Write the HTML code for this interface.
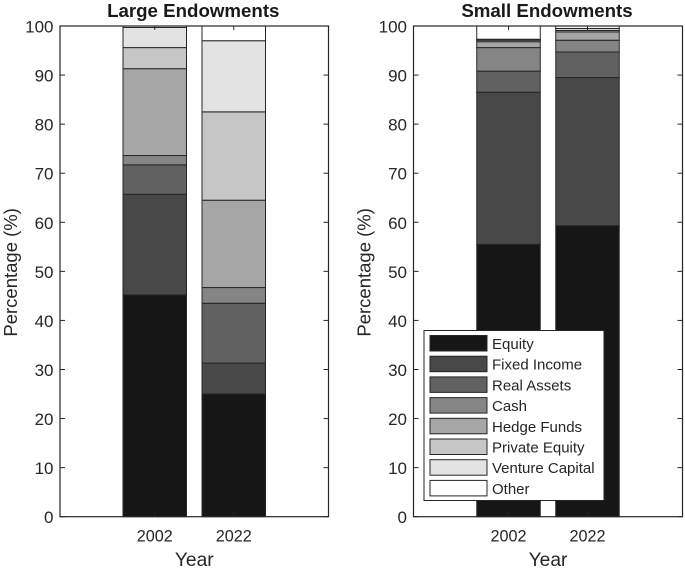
<!DOCTYPE html>
<html>
<head>
<meta charset="utf-8">
<style>
html,body{margin:0;padding:0;background:#fff;}
svg{display:block;font-family:"Liberation Sans",Arial,sans-serif;}
</style>
</head>
<body>
<svg id="chart" width="685" height="570" viewBox="0 0 685 570" xmlns="http://www.w3.org/2000/svg"></svg>
<script>
const categories = ['Equity','Fixed Income','Real Assets','Cash','Hedge Funds','Private Equity','Venture Capital','Other'];
const years = ['2002','2022'];
const yTicks = [0,10,20,30,40,50,60,70,80,90,100];
const large2002 = [45.2,20.5,6.0,1.9,17.7,4.3,4.1,0.3];
const large2022 = [25.0,6.3,12.2,3.2,17.8,18.0,14.5,3.0];
const small2002 = [55.5,31.0,4.3,4.8,1.2,0.3,0.2,2.7];
const small2022 = [59.3,30.2,5.2,2.4,1.7,0.3,0.4,0.5];
const fills = ['#161616','#484848','#616161','#858585','#a6a6a6','#c6c6c6','#e3e3e3','#ffffff'];

const NS = 'http://www.w3.org/2000/svg';
const svg = document.getElementById('chart');
function mk(tag, attrs, parent, text) {
  const el = document.createElementNS(NS, tag);
  for (const k in attrs) el.setAttribute(k, attrs[k]);
  if (text !== undefined) el.textContent = text;
  (parent || svg).appendChild(el);
  return el;
}
const TOP = 26, BOTTOM = 516.7, BAR = 63.5, STEP = 79, EDGE = '#262626', TEXT = '#262626';
const yScale = v => BOTTOM - (v / 100) * (BOTTOM - TOP);

function panel(slug, title, left, right, data) {
  const g = mk('g', {});
  
  
  const mid = (left + right) / 2;
  const xScale = i => mid + (i - 0.5) * STEP;

  data.forEach((series, i) => {
    let cum = 0;
    series.forEach((val, j) => {
      const r = mk('rect', {
        x: xScale(i) - BAR / 2,
        y: yScale(cum + val),
        width: BAR,
        height: yScale(cum) - yScale(cum + val),
        fill: fills[j],
        stroke: EDGE,
        'stroke-width': 1
      }, g);
      
      
      cum += val;
    });
  });

  const box = mk('rect', {x:left, y:TOP, width:right-left, height:BOTTOM-TOP, fill:'none', stroke:EDGE, 'stroke-width':1.2}, g);
  
  

  yTicks.forEach(t => {
    const y = yScale(t);
    mk('line', {x1:left, x2:left+5, y1:y, y2:y, stroke:EDGE, 'stroke-width':1}, g);
    mk('line', {x1:right, x2:right-5, y1:y, y2:y, stroke:EDGE, 'stroke-width':1}, g);
    const lab = mk('text', {x:left-6.5, y:y+6.5, 'text-anchor':'end', 'font-size':17, fill:TEXT}, g, String(t));
    
    
  });
  years.forEach((yr, i) => {
    const x = xScale(i);
    mk('line', {x1:x, x2:x, y1:TOP, y2:TOP+4, stroke:EDGE, 'stroke-width':1}, g);
    mk('line', {x1:x, x2:x, y1:BOTTOM, y2:BOTTOM-4, stroke:EDGE, 'stroke-width':1}, g);
    const lab = mk('text', {x:x, y:541.5, 'text-anchor':'middle', 'font-size':16.2, fill:TEXT}, g, yr);
    
    
  });

  const t = mk('text', {x:mid-1, y:17, 'text-anchor':'middle', 'font-size':18.7, 'font-weight':'bold', fill:'#1a1a1a'}, g, title);
  
  
  const xt = mk('text', {x:mid, y:566, 'text-anchor':'middle', 'font-size':19.2, fill:TEXT}, g, 'Year');
  
  
  const yx = left - 43, yy = (TOP + BOTTOM) / 2 + 1;
  const yt = mk('text', {x:yx, y:yy, 'text-anchor':'middle', 'font-size':18.5, fill:TEXT, transform:'rotate(-90 '+yx+' '+yy+')'}, g, 'Percentage (%)');
  
  
}

panel('large-endowments', 'Large Endowments', 60, 328.5, [large2002, large2022]);
panel('small-endowments', 'Small Endowments', 413.5, 682.5, [small2002, small2022]);

const legend = mk('g', {});


mk('rect', {x:424, y:330.5, width:180, height:170, fill:'#fff', stroke:EDGE, 'stroke-width':1}, legend);
categories.forEach((c, i) => {
  const y = 335.5 + i * 20.7;
  const s = mk('rect', {x:430, y:y, width:57, height:15.5, fill:fills[i], stroke:EDGE, 'stroke-width':1}, legend);
  
  
  const l = mk('text', {x:492, y:y+13.5, 'font-size':15, fill:TEXT}, legend, c);
  
  
});
</script>
</body>
</html>
